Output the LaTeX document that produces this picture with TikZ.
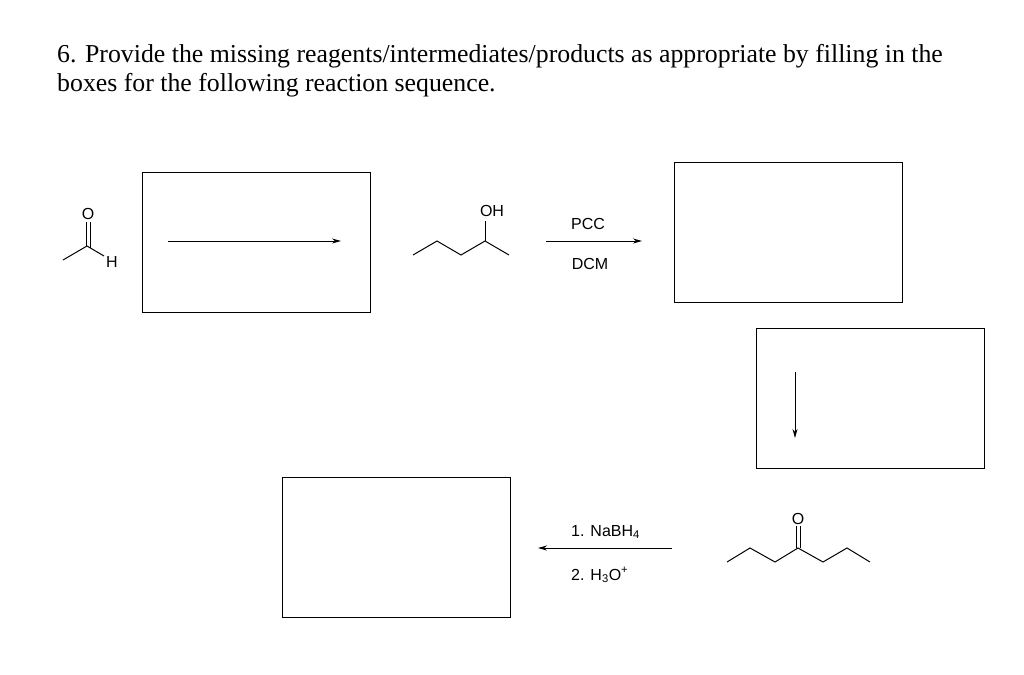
\documentclass[tikz,border=0pt]{standalone}
\usepackage{fontspec}
\setmainfont{Liberation Serif}
\newfontfamily\lab{Liberation Sans}
\usetikzlibrary{arrows.meta}
\begin{document}
\begin{tikzpicture}[x=1pt,y=-1pt,
  box/.style={draw,line width=0.9pt},
  bond/.style={line width=1pt},
  arr/.style={line width=0.9pt,-{Stealth[length=9pt,width=5pt]}},
  lbl/.style={font=\lab\fontsize{16}{16}\selectfont,inner sep=0pt}]
\useasboundingbox (0,0) rectangle (1024,674);
\node[anchor=west,align=left,font=\fontsize{25.8}{29}\selectfont,inner sep=0pt] (title) at (57,71)
 {6. Provide the missing reagents/intermediates/products as appropriate by filling in the\\boxes for the following reaction sequence.};
\draw[box] (142,172) rectangle (370,312);
\draw[box] (674,162) rectangle (902,302);
\draw[box] (756,328) rectangle (984,468);
\draw[box] (282,477) rectangle (510,617);
% aldehyde
\coordinate (a1) at (63,260); \coordinate (a2) at (87,246);
\node[lbl] (aO) at (88,214) {O};
\node[lbl] (aH) at (112,262) {H};
\draw[bond] (a1) -- (a2) -- (104,256);
\draw[bond] (86,246) -- (86,222) (90,248) -- (90,222);
% alcohol
\draw[bond] (413,255) -- (437,241) -- (461,255) -- (485,241) -- (509,255);
\draw[bond] (485,241) -- (485,221);
\node[lbl] (oh) at (492,211) {OH};
% ketone
\draw[bond] (727,562) -- (750,548) -- (775,562) -- (798,548) -- (823,562) -- (847,548) -- (870,562);
\draw[bond] (796,548) -- (796,526) (800,548) -- (800,526);
\node[lbl] (kO) at (798,519) {O};
% arrows
\coordinate (r1s) at (168,241); \coordinate (r1e) at (341,241);
\draw[arr] (r1s) -- (r1e);
\coordinate (r2s) at (546,241); \coordinate (r2e) at (642,241);
\draw[arr] (r2s) -- (r2e);
\node[lbl] (pcc) at (588,224) {PCC};
\node[lbl] (dcm) at (590,264) {DCM};
\coordinate (r3s) at (795,372); \coordinate (r3e) at (795,438);
\draw[arr] (r3s) -- (r3e);
\coordinate (r4s) at (672,548); \coordinate (r4e) at (538,548);
\draw[arr] (r4s) -- (r4e);
\node[lbl,anchor=west] (n1) at (571,532) {1. NaBH\textsubscript{4}};
\node[lbl,anchor=west] (n2) at (571,575) {2. H\textsubscript{3}O\textsuperscript{+}};
\end{tikzpicture}
\end{document}
